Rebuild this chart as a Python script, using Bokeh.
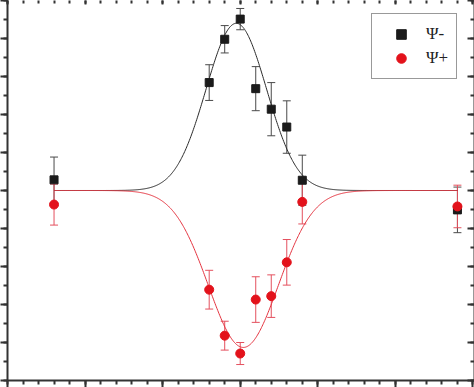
import numpy as np
from bokeh.plotting import figure
from bokeh.models import (Range1d, LinearAxis, FixedTicker, Whisker, TeeHead,
                          ColumnDataSource, Legend, LegendItem, CustomJSTickFormatter)
from bokeh.embed import file_html
from bokeh.resources import INLINE

# ---- data ----
delay = [-12, -2, -1, 0, 1, 2, 3, 4, 14]
psi_minus = [0.028, 0.284, 0.398, 0.451, 0.268, 0.214, 0.167, 0.027, -0.051]
psi_minus_err = [0.060, 0.047, 0.036, 0.028, 0.058, 0.070, 0.069, 0.066, 0.060]
psi_plus = [-0.037, -0.261, -0.382, -0.429, -0.287, -0.278, -0.189, -0.030, -0.042]
psi_plus_err = [0.054, 0.051, 0.038, 0.029, 0.060, 0.056, 0.060, 0.058, 0.056]

# Gaussian fit parameters (amplitude, centre, width) estimated from the curves
fit_minus = (0.44, -0.25, 1.95)
fit_plus = (-0.413, 0.2, 2.25)
fit_span = (-12, 14)

x_major = [-15, -10, -5, 0, 5, 10, 15]
x_minor = list(range(-15, 16))
y_major = [-0.5, -0.4, -0.3, -0.2, -0.1, 0.0, 0.1, 0.2, 0.3, 0.4, 0.5]
y_minor = [round(-0.5 + 0.05 * i, 2) for i in range(21)]

AX = "#333333"
BLACK = "#1b1b1b"
RED = "#e3121b"
RED_ERR = "#e4505e"
RED_LINE = "#e5333f"

p = figure(width=474, height=387, output_backend="svg", toolbar_location=None,
           x_range=Range1d(-15, 15.1), y_range=Range1d(-0.5, 0.5),
           x_axis_location=None, y_axis_location=None,
           min_border_left=7, min_border_bottom=7, min_border_top=0, min_border_right=0)
p.grid.visible = False
p.outline_line_color = None
p.background_fill_color = "white"
p.border_fill_color = "white"


def make_axis(ticker, tin, tout, min_in, min_out, line_color):
    # the reference shows tick marks only, without any tick labels
    return LinearAxis(ticker=ticker, formatter=CustomJSTickFormatter(code="return ''"),
                      major_label_text_font_size="1px",
                      major_label_standoff=0, axis_line_color=line_color,
                      axis_line_width=2, major_tick_line_color=AX,
                      minor_tick_line_color=AX, major_tick_line_width=2,
                      minor_tick_line_width=2, major_tick_in=tin, major_tick_out=tout,
                      minor_tick_in=min_in, minor_tick_out=min_out)


xt = FixedTicker(ticks=x_major, minor_ticks=x_minor)
yt = FixedTicker(ticks=y_major, minor_ticks=y_minor)
p.add_layout(make_axis(xt, 0, 7, 0, 4, AX), "below")
p.add_layout(make_axis(yt, 0, 7, 0, 4, AX), "left")
p.add_layout(make_axis(xt, 4, 0, 3, 0, None), "above")
p.add_layout(make_axis(yt, 7, 0, 4, 0, AX), "right")

# fitted curves
xs = np.linspace(fit_span[0], fit_span[1], 600)


def gauss(x, params):
    a, c, s = params
    return a * np.exp(-((x - c) ** 2) / (2 * s * s))


p.line(xs, gauss(xs, fit_minus), line_color="#2a2a2a", line_width=1)
p.line(xs, gauss(xs, fit_plus), line_color=RED_LINE, line_width=1)

src_m = ColumnDataSource(dict(x=delay, y=psi_minus,
                              upper=[v + e for v, e in zip(psi_minus, psi_minus_err)],
                              lower=[v - e for v, e in zip(psi_minus, psi_minus_err)]))
src_p = ColumnDataSource(dict(x=delay, y=psi_plus,
                              upper=[v + e for v, e in zip(psi_plus, psi_plus_err)],
                              lower=[v - e for v, e in zip(psi_plus, psi_plus_err)]))

for src, col in ((src_m, "#4a4a4a"), (src_p, RED_ERR)):
    p.add_layout(Whisker(source=src, base="x", upper="upper", lower="lower",
                         line_color=col, line_width=1,
                         upper_head=TeeHead(size=8, line_color=col, line_width=1),
                         lower_head=TeeHead(size=8, line_color=col, line_width=1)))

r_sq = p.scatter("x", "y", source=src_m, marker="square", size=8,
                 fill_color=BLACK, line_color=BLACK)
r_ci = p.scatter("x", "y", source=src_p, marker="circle", size=9,
                 fill_color=RED, line_color=RED)

legend = Legend(items=[LegendItem(label="Ψ-", renderers=[r_sq]),
                       LegendItem(label="Ψ+", renderers=[r_ci])],
                location=(364, 301), orientation="vertical",
                label_text_font="Liberation Serif", label_text_font_size="17px",
                label_text_color="#222222", border_line_color=AX,
                border_line_width=1, background_fill_color="white",
                background_fill_alpha=1, padding=8, spacing=-2, margin=0,
                glyph_width=42, glyph_height=24, label_height=24, label_standoff=4)
p.add_layout(legend)

open("out.html", "w").write(file_html(p, INLINE))
